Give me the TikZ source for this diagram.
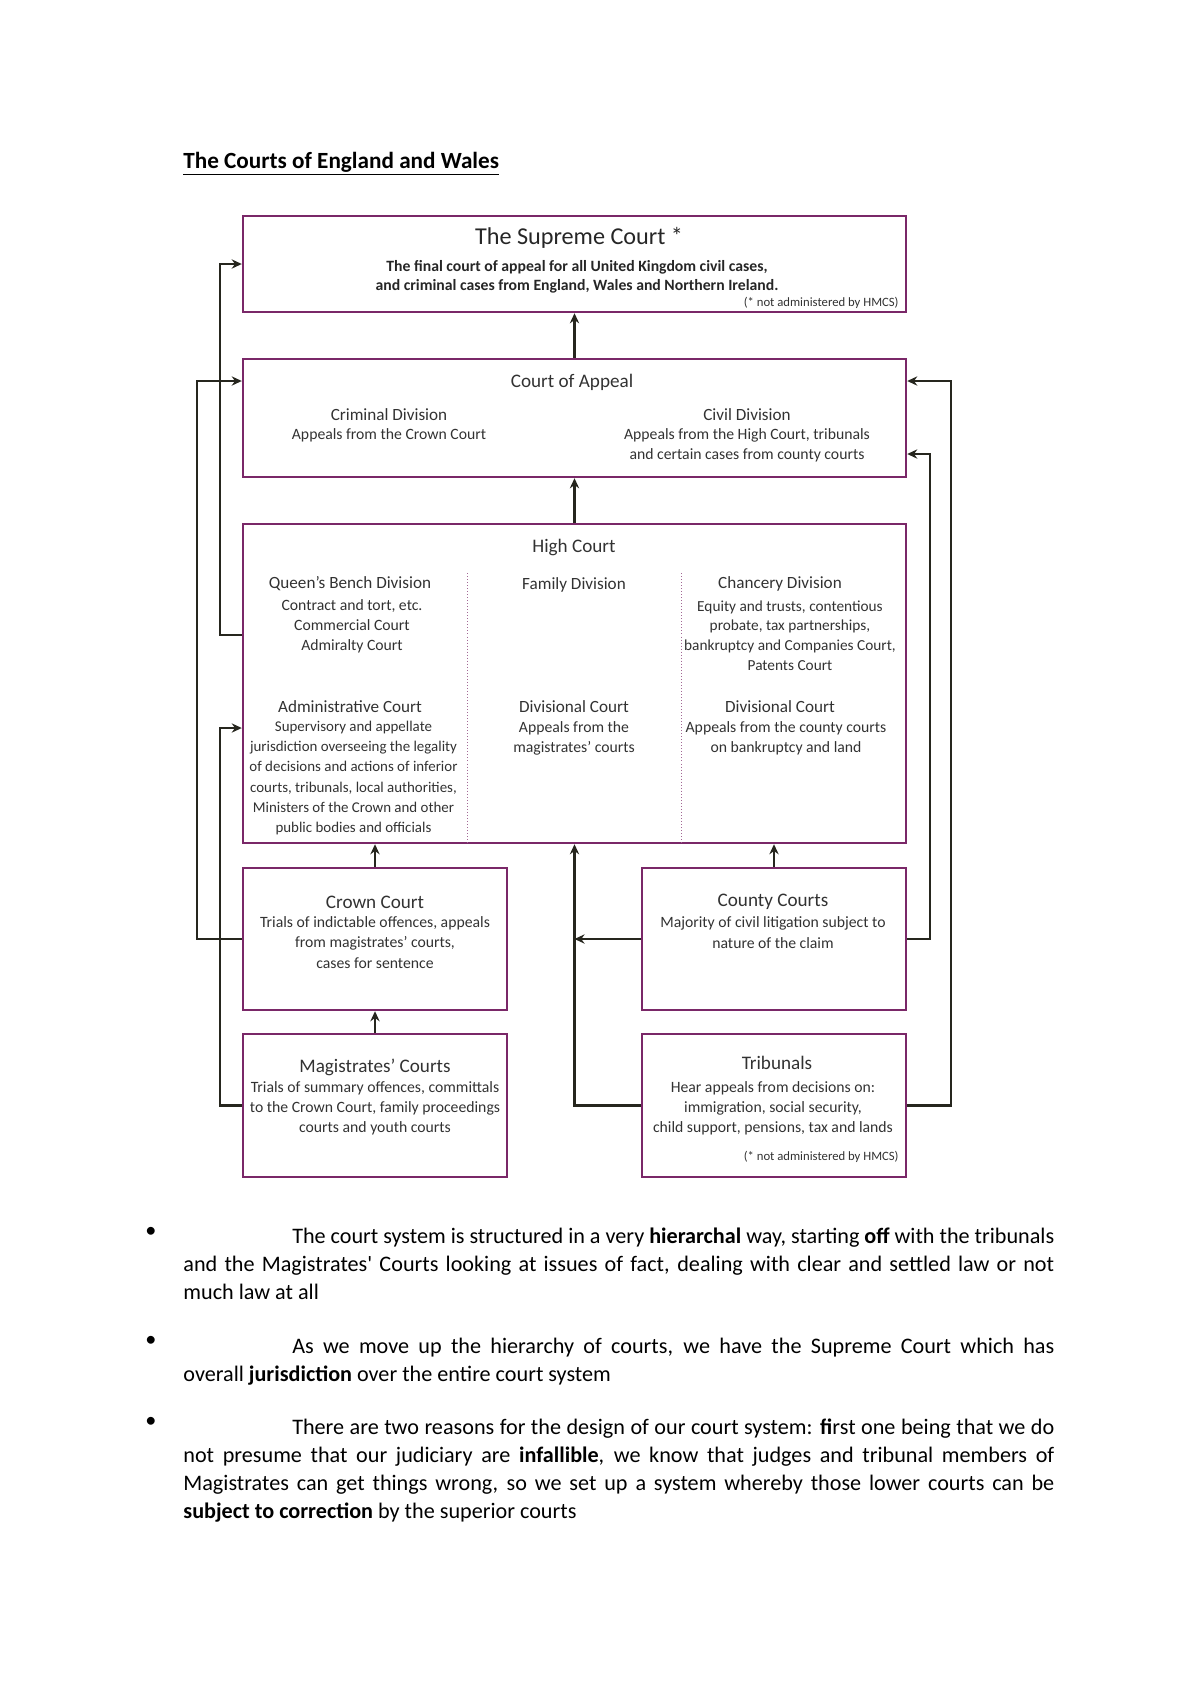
\documentclass[tikz,border=0pt]{standalone}
\usepackage{fontspec}
\setmainfont{Carlito}
\usepackage{xcolor}
\usetikzlibrary{arrows.meta}
\definecolor{courtpurple}{RGB}{122,40,104}
\definecolor{linkdark}{RGB}{38,38,30}
\definecolor{inkgrey}{RGB}{50,50,50}
\newdimen\pxu \pxu=0.49607pt

\begin{document}
\begin{tikzpicture}[x=0.49607pt,y=-0.49607pt,
  court/.style={draw=courtpurple,line width=1.2pt,rectangle,inner sep=0pt},
  link/.style={draw=linkdark,line width=1.1pt,-{Stealth[length=5pt,width=4.6pt]}},
  divrule/.style={draw=courtpurple!70,line width=0.5pt,densely dotted},
  courthead/.style={text=inkgrey,inner sep=0pt,font=\fontsize{9.5}{11}\selectfont},
  divhead/.style={text=inkgrey,inner sep=0pt,font=\fontsize{8.5}{10}\selectfont},
  courttext/.style={text=inkgrey,inner sep=0pt,align=center,font=\fontsize{7.8}{10}\selectfont},
  hmcs/.style={text=inkgrey,inner sep=0pt,anchor=east,font=\fontsize{6.3}{7}\selectfont},
  bodytext/.style={anchor=base west,inner sep=0pt,text width=432pt,align=justify,font=\fontsize{11}{13.9}\selectfont},
  dot/.style={inner sep=0pt,font=\fontsize{11}{13}\selectfont}]
\useasboundingbox (0,0) rectangle (1200,1698);

\node[anchor=base west,inner sep=0pt,font=\fontsize{11.5}{13}\selectfont\bfseries] (title) at (183,168) {\underline{The Courts of England and Wales}};

% court boxes
\node[court,minimum width=663*\pxu,minimum height=96*\pxu] (supreme) at (574.5,264) {};
\node[court,minimum width=663*\pxu,minimum height=118*\pxu] (appeal) at (574.5,418) {};
\node[court,minimum width=663*\pxu,minimum height=319*\pxu] (high) at (574.5,683.5) {};
\node[court,minimum width=264*\pxu,minimum height=142*\pxu] (crown) at (375,939) {};
\node[court,minimum width=264*\pxu,minimum height=142*\pxu] (county) at (774,939) {};
\node[court,minimum width=264*\pxu,minimum height=143*\pxu] (magistrates) at (375,1105.5) {};
\node[court,minimum width=264*\pxu,minimum height=143*\pxu] (tribunals) at (774,1105.5) {};

\draw[divrule] (467,573) -- (467,843);
\draw[divrule] (681.5,573) -- (681.5,843);

% supreme court
\node[inner sep=0pt,text=black!85,font=\fontsize{12}{14}\selectfont] (supT) at (579,238) {The Supreme Court *};
\node[courttext,text=black!85,font=\fontsize{7.8}{9.4}\selectfont\bfseries] (supD) at (577,276.5) {The final court of appeal for all United Kingdom civil cases,\\and criminal cases from England, Wales and Northern Ireland.};
\node[hmcs] (supN) at (899,303) {(* not administered by HMCS)};

% court of appeal
\node[courthead] (appT) at (572,382) {Court of Appeal};
\node[divhead] (crimT) at (389,415) {Criminal Division};
\node[courttext] (crimD) at (389,435) {Appeals from the Crown Court};
\node[divhead] (civT) at (747,415) {Civil Division};
\node[courttext] (civD) at (747,445) {Appeals from the High Court, tribunals\\and certain cases from county courts};

% high court
\node[courthead] (highT) at (574,547) {High Court};
\node[divhead] (qbT) at (350,584) {Queen's Bench Division};
\node[courttext] (qbD) at (352,626) {Contract and tort, etc.\\Commercial Court\\Admiralty Court};
\node[divhead] (famT) at (574,585) {Family Division};
\node[divhead] (chT) at (780,584) {Chancery Division};
\node[courttext,font=\fontsize{7.6}{9.8}\selectfont] (chD) at (790,635.5) {Equity and trusts, contentious\\probate, tax partnerships,\\bankruptcy and Companies Court,\\Patents Court};
\node[divhead] (admT) at (350,707) {Administrative Court};
\node[courttext,font=\fontsize{7.4}{10}\selectfont] (admD) at (353.5,778) {Supervisory and appellate\\jurisdiction overseeing the legality\\of decisions and actions of inferior\\courts, tribunals, local authorities,\\Ministers of the Crown and other\\public bodies and officials};
\node[divhead] (divAT) at (574,707) {Divisional Court};
\node[courttext] (divAD) at (574,738) {Appeals from the\\magistrates' courts};
\node[divhead] (divBT) at (780,707) {Divisional Court};
\node[courttext] (divBD) at (786,738) {Appeals from the county courts\\on bankruptcy and land};

% lower courts
\node[courthead] (crownT) at (375,902) {Crown Court};
\node[courttext,font=\fontsize{7.8}{10.2}\selectfont] (crownD) at (375,942.5) {Trials of indictable offences, appeals\\from magistrates' courts,\\cases for sentence};
\node[courthead] (countyT) at (773,902) {County Courts};
\node[courttext,font=\fontsize{7.8}{10.2}\selectfont] (countyD) at (773,932.5) {Majority of civil litigation subject to\\nature of the claim};
\node[courthead] (magT) at (375,1067) {Magistrates' Courts};
\node[courttext] (magD) at (375,1108) {Trials of summary offences, committals\\to the Crown Court, family proceedings\\courts and youth courts};
\node[courthead] (tribT) at (777,1063) {Tribunals};
\node[courttext] (tribD) at (773,1108) {Hear appeals from decisions on:\\immigration, social security,\\child support, pensions, tax and lands};
\node[hmcs] (tribN) at (899,1157) {(* not administered by HMCS)};

% appeal routes
\draw[link] (appeal.north) -- (supreme.south);
\draw[link] (high.north) -- (appeal.south);
\draw[link] (crown.north) -- (crown.north |- high.south);
\draw[link] (county.north) -- (county.north |- high.south);
\draw[link] (magistrates.north) -- (crown.south);
\draw[link] (tribunals.west) -| (high.south);
\draw[link] (county.west) -- (county.west -| high.south);
\draw[link] ([yshift=48.5*\pxu]high.west) -- ++(-22,0) |- (supreme.west);
\draw[link] (crown.west) -- ++(-45,0) |- ([yshift=37*\pxu]appeal.west);
\draw[link] (magistrates.west) -- ++(-22,0) |- ([yshift=-44.5*\pxu]high.west);
\draw[link] (county.east) -- ++(23,0) |- ([yshift=-36*\pxu]appeal.east);
\draw[link] (tribunals.east) -- ++(44,0) |- ([yshift=37*\pxu]appeal.east);

% notes
\node[dot] (dotA) at (151,1232) {\textbullet};
\node[bodytext] (paraA) at (183,1243) {\hspace*{54pt}The court system is structured in a very \textbf{hierarchal} way, starting \textbf{off} with the tribunals\linebreak and the Magistrates\textquotesingle\ Courts looking at issues of fact, dealing with clear and settled law or not\linebreak much law at all};
\node[dot] (dotB) at (151,1341) {\textbullet};
\node[bodytext] (paraB) at (183,1353) {\hspace*{54pt}As we move up the hierarchy of courts, we have the Supreme Court which has\linebreak overall \textbf{jurisdiction} over the entire court system};
\node[dot] (dotC) at (151,1422) {\textbullet};
\node[bodytext] (paraC) at (183,1434) {\hspace*{54pt}There are two reasons for the design of our court system: \textbf{fi}rst one being that we do\linebreak not presume that our judiciary are \textbf{infallible}, we know that judges and tribunal members of\linebreak Magistrates can get things wrong, so we set up a system whereby those lower courts can be\linebreak \textbf{subject to correction} by the superior courts};
\end{tikzpicture}
\end{document}
